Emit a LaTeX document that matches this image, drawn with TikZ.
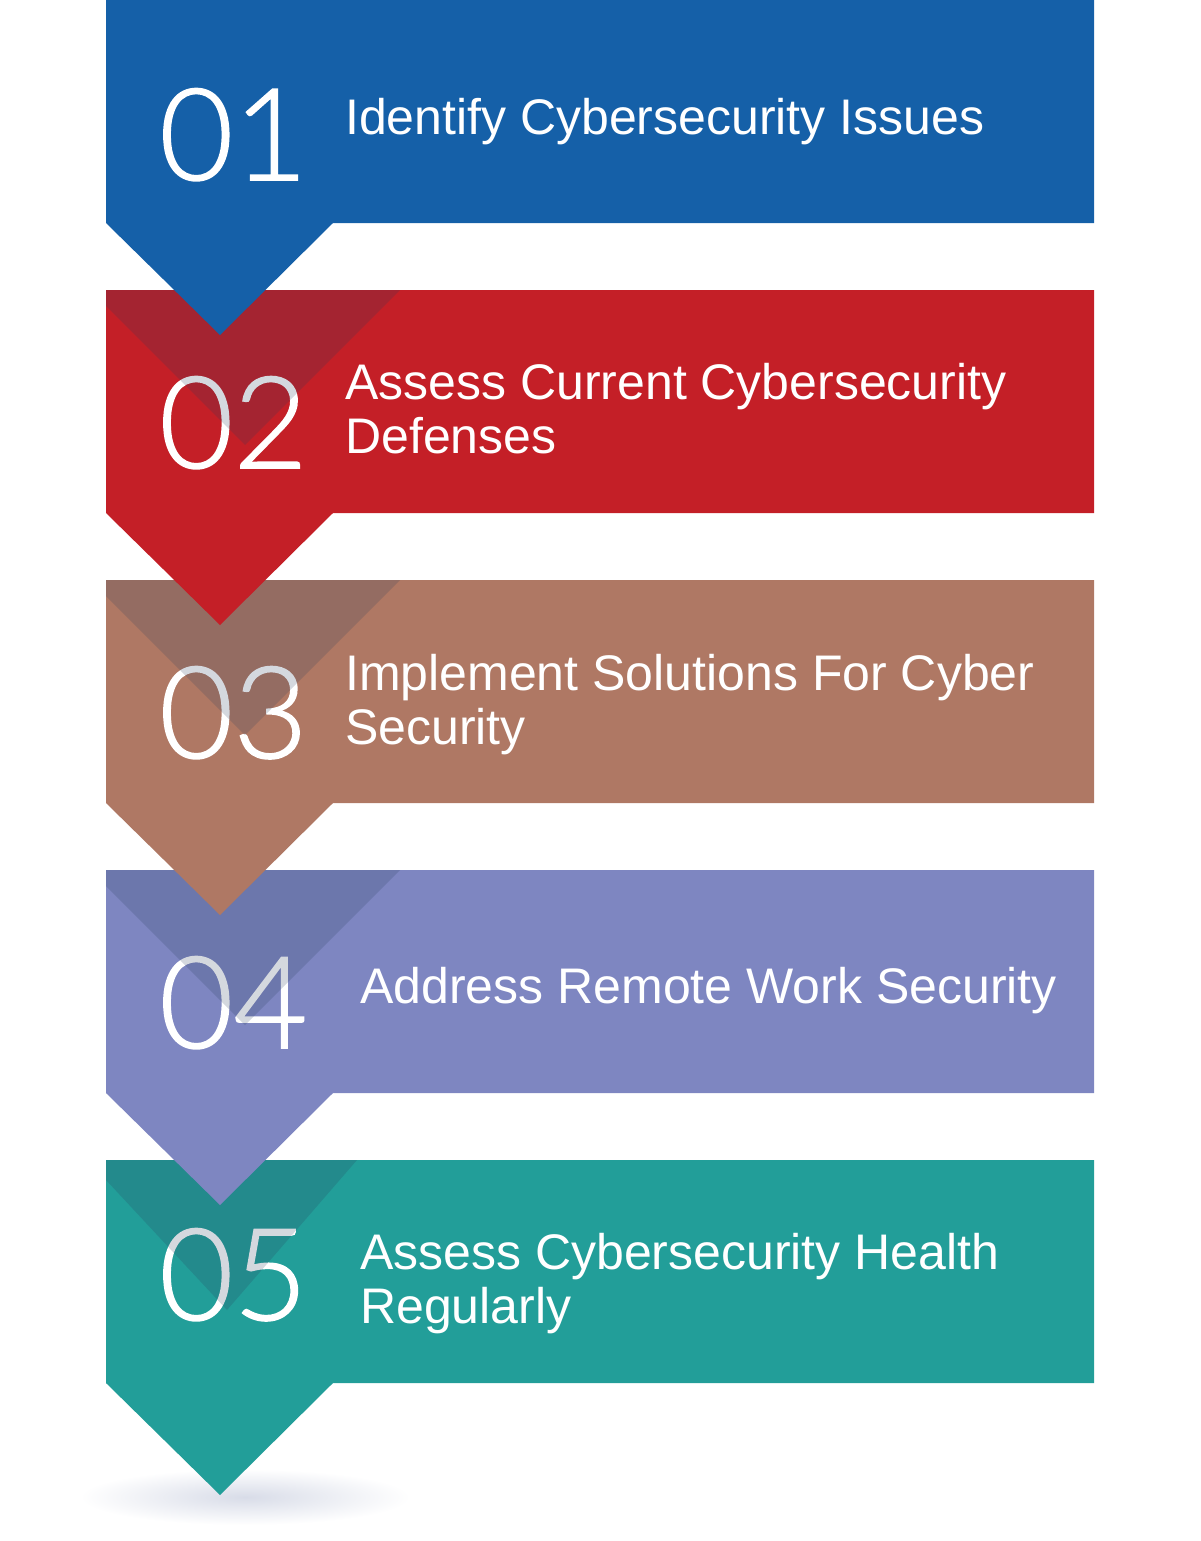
\documentclass[tikz,border=0pt]{standalone}
\usepackage{fontspec}
\setmainfont{Liberation Sans}
\newfontfamily\numfont{Lato Light}[FakeBold=1.2]
\definecolor{bandblue}{RGB}{21,96,168}
\definecolor{bandred}{RGB}{196,31,39}
\definecolor{bandbrown}{RGB}{175,120,100}
\definecolor{bandviolet}{RGB}{126,134,193}
\definecolor{bandteal}{RGB}{34,158,153}
\definecolor{dipshade}{RGB}{40,60,90}
\definecolor{groundshade}{RGB}{216,220,232}

\begin{document}
\begin{tikzpicture}[x=1pt, y=-1pt,
    band/.style={fill=#1},
    dip/.style={fill=dipshade, fill opacity=0.2},
    stepnum/.style={anchor=base west, inner sep=0pt, text=white,
      font=\numfont\fontsize{128}{128}\selectfont},
    steptext/.style={anchor=base west, inner sep=0pt, text=white, align=left,
      font=\fontsize{50}{54}\selectfont}]
  \useasboundingbox (0,0) rectangle (1200,1541);
  % soft shadow under the last arrow
  \shade[inner color=groundshade, outer color=white]
    (245,1497) ellipse [x radius=165, y radius=28];
  % bands bottom up, so each arrow lies over the band below it
  % (a two-line text sits on the baseline of its last line)
  \foreach \i/\ya/\col/\yn/\xt/\yt/\vr/\vx/\vd/\vl/\txt in {
      5/1160/bandteal/1320/360/1323/357/227/150/20/{Assess Cybersecurity Health\\Regularly},
      4/870/bandviolet/1048/360/1003/400/245/155/16/{Address Remote Work Security},
      3/580/bandbrown/758/345/744/400/245/155/16/{Implement Solutions For Cyber\\Security},
      2/290/bandred/468/345/453/400/245/155/16/{Assess Current Cybersecurity\\Defenses},
      1/0/bandblue/180/345/135/0/0/0/0/{Identify Cybersecurity Issues}} {
    \fill[band=\col] (106,\ya) -- (1094,\ya) -- (1094,\ya+223) -- (333,\ya+223)
      -- (220,\ya+335) -- (106,\ya+223) -- cycle;
    \node[stepnum] (n\i) at (159,\yn) {0\i};
    \node[steptext] (t\i) at (\xt,\yt) {\txt};
    \ifnum\i>1
      \fill[dip] (106,\ya) -- (\vr,\ya) -- (\vx,\ya+\vd) -- (106,\ya+\vl) -- cycle;
    \fi
  }
\end{tikzpicture}
\end{document}
